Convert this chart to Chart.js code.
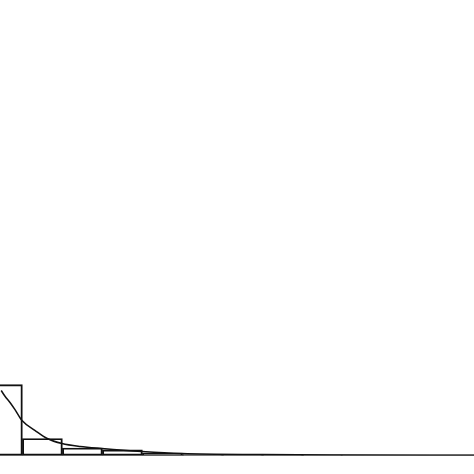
<!DOCTYPE html>
<html>
<head>
<meta charset="utf-8">
<script src="https://cdn.jsdelivr.net/npm/chart.js@4/dist/chart.umd.min.js"></script>
<style>
  html, body { margin: 0; padding: 0; background: #fff; }
  #chart { display: block; }
</style>
</head>
<body>
<canvas id="chart" width="474" height="474"></canvas>
<script>
// histogram bins (bin width 1, centres) and counts
const binCenters = [0.5, 1.5, 2.5, 3.5, 4.5, 5.5, 6.5, 7.5, 8.5];
const binCounts = [671, 161, 71, 54, 23, 8, 6, 4, 3];

// fitted density curve
const curveX = [0.47, 0.565, 0.69, 0.815, 0.99, 1.32, 1.62, 1.99, 2.44, 2.99, 3.99, 4.99, 6.99, 8.99, 12.29];
const curveY = [614, 560, 501, 433, 331, 236, 161, 113, 85, 66, 38, 19, 9, 5, 2];

// visible window of the axes
const xMin = 0.44;
const xMax = 12.29;
const yMax = 4305;

const bars = binCenters.map((x, i) => ({ x: x, y: binCounts[i] }));
const curve = curveX.map((x, i) => ({ x: x, y: curveY[i] }));
const baseline = [{ x: xMin, y: 0 }, { x: xMax, y: 0 }];

new Chart(document.getElementById("chart").getContext("2d"), {
    type: "bar",
    data: {
        datasets: [
            {
                type: "line",
                data: curve,
                borderColor: "#111",
                borderWidth: 1.5,
                pointRadius: 0,
                cubicInterpolationMode: "monotone",
                fill: false
            },
            {
                type: "line",
                data: baseline,
                borderColor: "#111",
                borderWidth: 1.5,
                pointRadius: 0,
                fill: false
            },
            {
                data: bars,
                backgroundColor: "rgba(255,255,255,0)",
                borderColor: "#111",
                borderWidth: 1.3,
                borderSkipped: false,
                barPercentage: 1,
                categoryPercentage: 1
            }
        ]
    },
    options: {
        responsive: false,
        animation: false,
        layout: { padding: { left: 0, right: 0, top: 0, bottom: 18.5 } },
        plugins: {
            legend: { display: false },
            tooltip: { enabled: false }
        },
        scales: {
            x: {
                type: "linear",
                min: xMin,
                max: xMax,
                offset: false,
                display: false
            },
            y: {
                min: 0,
                max: yMax,
                display: false
            }
        }
    }
});
</script>
</body>
</html>
